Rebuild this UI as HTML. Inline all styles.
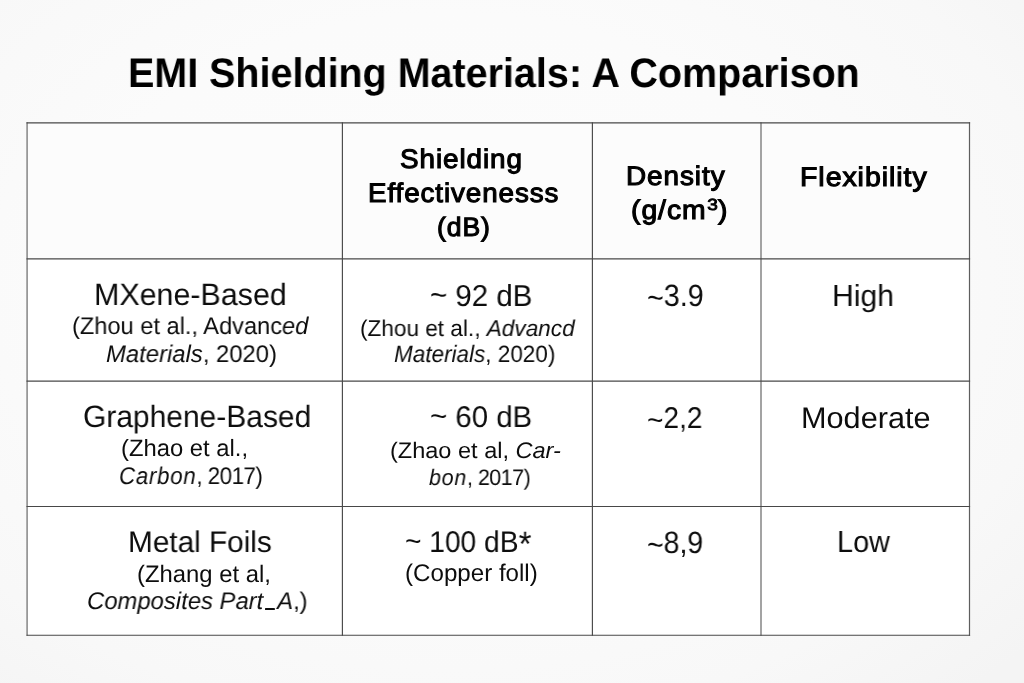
<!DOCTYPE html>
<html><head><meta charset='utf-8'><title>EMI Shielding Materials: A Comparison</title>
<style>
html,body{margin:0;padding:0;}
body{width:1024px;height:683px;overflow:hidden;background:#f8f8f8 radial-gradient(ellipse 75% 80% at 44% 42%, #fcfcfc 0%, #fbfbfb 50%, #f8f8f8 80%, #f4f4f4 100%);font-family:"Liberation Sans", sans-serif;color:#0d0d0d;position:relative;}
.t{position:absolute;white-space:nowrap;line-height:1;transform-origin:0 0;will-change:transform;text-rendering:geometricPrecision;}
.t i{font-style:italic;}
.sup{display:inline-block;font-size:60%;position:relative;top:-0.56em;transform:scaleX(1.12);margin:0 0.06em 0 0.06em;-webkit-text-stroke-width:0.85px;letter-spacing:0;}
.tl{position:relative;top:0.06em;}
.tl0{position:relative;top:-0.02em;}
.ast{font-size:1.18em;line-height:0;position:relative;top:0.12em;}
.us{display:inline-block;width:0.40em;height:0.085em;background:currentColor;margin:0 0.11em 0 0.07em;vertical-align:-0.06em;border-radius:0.5px;}
svg{position:absolute;left:0;top:0;}
</style></head>
<body>
<svg width="1024" height="683" viewBox="0 0 1024 683">
<rect x="27.1" y="122.8" width="942.4" height="136.1" fill="#fcfcfc"/>
<rect x="27.1" y="258.9" width="942.4" height="376.3" fill="#ffffff"/>
<line x1="27.1" y1="122.2" x2="27.1" y2="635.8" stroke="#939393" stroke-width="1.7"/>
<line x1="342.4" y1="122.2" x2="342.4" y2="635.8" stroke="#484848" stroke-width="1.15"/>
<line x1="592.4" y1="122.2" x2="592.4" y2="635.8" stroke="#484848" stroke-width="1.15"/>
<line x1="761.0" y1="122.2" x2="761.0" y2="635.8" stroke="#939393" stroke-width="1.7"/>
<line x1="969.5" y1="122.2" x2="969.5" y2="635.8" stroke="#5e5e5e" stroke-width="1.2"/>
<line x1="26.5" y1="122.8" x2="970.1" y2="122.8" stroke="#484848" stroke-width="1.15"/>
<line x1="26.5" y1="258.9" x2="970.1" y2="258.9" stroke="#484848" stroke-width="1.15"/>
<line x1="26.5" y1="381.1" x2="970.1" y2="381.1" stroke="#484848" stroke-width="1.15"/>
<line x1="26.5" y1="506.5" x2="970.1" y2="506.5" stroke="#484848" stroke-width="1.15"/>
<line x1="26.5" y1="635.2" x2="970.1" y2="635.2" stroke="#484848" stroke-width="1.15"/>
</svg>
<div class="t" style="left:128.07px;top:53.0px;font-size:41.28px;font-weight:bold;color:#000;transform:scaleX(0.9564)">EMI Shielding Materials: A Comparison</div>
<div class="t" style="left:400.26px;top:146.0px;font-size:26.89px;color:#000;font-weight:normal;letter-spacing:0.9px;-webkit-text-stroke:1.1px currentColor;transform:scaleX(1.0358)">Shielding</div>
<div class="t" style="left:367.61px;top:180.0px;font-size:26.89px;color:#000;font-weight:normal;letter-spacing:0.9px;-webkit-text-stroke:1.1px currentColor;transform:scaleX(1.0320)">Effectivenesss</div>
<div class="t" style="left:437.45px;top:213.5px;font-size:26.6px;color:#000;font-weight:normal;letter-spacing:0.9px;-webkit-text-stroke:1.1px currentColor;transform:scaleX(0.9953)">(dB)</div>
<div class="t" style="left:626.30px;top:163.25px;font-size:26.89px;color:#000;font-weight:normal;letter-spacing:0.9px;-webkit-text-stroke:1.1px currentColor;transform:scaleX(1.0375)">Density</div>
<div class="t" style="left:630.75px;top:197.0px;font-size:26.89px;color:#000;font-weight:normal;letter-spacing:0.9px;-webkit-text-stroke:1.1px currentColor;transform:scaleX(1.0537)">(g/cm<span class='sup'>3</span>)</div>
<div class="t" style="left:799.87px;top:163.5px;font-size:26.89px;color:#000;font-weight:normal;letter-spacing:0.9px;-webkit-text-stroke:1.1px currentColor;transform:scaleX(1.0598)">Flexibility</div>
<div class="t" style="left:93.72px;top:280.0px;font-size:30.81px;font-weight:normal;transform:scaleX(0.9875)">MXene-Based</div>
<div class="t" style="left:71.73px;top:314.5px;font-size:24.13px;font-weight:normal;transform:scaleX(0.9789)">(Zhou et al., Advanc<i>ed</i></div>
<div class="t" style="left:105.69px;top:342.5px;font-size:24.13px;font-weight:normal;transform:scaleX(0.9883)"><i>Materials</i>, 2020)</div>
<div class="t" style="left:429.69px;top:281.5px;font-size:30.23px;font-weight:normal;transform:scaleX(0.9753)"><span class='tl0'>~</span> 92 dB</div>
<div class="t" style="left:359.58px;top:316.5px;font-size:22.82px;font-weight:normal;transform:scaleX(0.9897)">(Zhou et al., <i>Advancd</i></div>
<div class="t" style="left:393.72px;top:344.0px;font-size:23.69px;font-weight:normal;transform:scaleX(0.9499)"><i>Materials</i>, 2020)</div>
<div class="t" style="left:646.72px;top:280.5px;font-size:30.81px;font-weight:normal;transform:scaleX(0.9306)"><span class='tl'>~</span>3.9</div>
<div class="t" style="left:831.65px;top:281.0px;font-size:30.52px;font-weight:normal;transform:scaleX(0.9885)">High</div>
<div class="t" style="left:83.48px;top:401.75px;font-size:30.81px;font-weight:normal;transform:scaleX(0.9730)">Graphene-Based</div>
<div class="t" style="left:121.32px;top:436.5px;font-size:23.55px;font-weight:normal;transform:scaleX(1.0109)">(Zhao et al.,</div>
<div class="t" style="left:119.06px;top:465.0px;font-size:24.13px;font-weight:normal;transform:scaleX(0.9218)"><i style='letter-spacing:0.8px'>Carbon</i><span style='letter-spacing:-0.5px'>, 2017)</span></div>
<div class="t" style="left:429.90px;top:403.0px;font-size:29.94px;font-weight:normal;transform:scaleX(0.9821)"><span class='tl0'>~</span> 60 dB</div>
<div class="t" style="left:389.94px;top:440.0px;font-size:22.53px;font-weight:normal;transform:scaleX(1.0446)">(Zhao et al, <i>Car-</i></div>
<div class="t" style="left:428.82px;top:466.75px;font-size:22.38px;font-weight:normal;transform:scaleX(0.9560)"><i style='letter-spacing:0.8px'>bon</i><span style='letter-spacing:-0.5px'>, 2017)</span></div>
<div class="t" style="left:646.96px;top:403.5px;font-size:29.94px;font-weight:normal;transform:scaleX(0.9373)"><span class='tl'>~</span>2,2</div>
<div class="t" style="left:800.81px;top:403.5px;font-size:29.94px;font-weight:normal;transform:scaleX(1.0239)">Moderate</div>
<div class="t" style="left:127.58px;top:528.25px;font-size:29.94px;font-weight:normal;transform:scaleX(0.9937)">Metal Foils</div>
<div class="t" style="left:137.11px;top:562.5px;font-size:23.84px;font-weight:normal;transform:scaleX(1.0002)">(Zhang et al,</div>
<div class="t" style="left:87.37px;top:589.5px;font-size:24.13px;font-weight:normal;transform:scaleX(0.9887)"><i>Composites Part<span class='us'></span>A</i>,)</div>
<div class="t" style="left:405.15px;top:527.5px;font-size:29.94px;font-weight:normal;transform:scaleX(0.9406)"><span class='tl0'>~</span> 100 dB<span class='ast'>*</span></div>
<div class="t" style="left:404.60px;top:561.5px;font-size:24.13px;font-weight:normal;transform:scaleX(1.0002)">(Copper foll)</div>
<div class="t" style="left:646.93px;top:527.5px;font-size:30.81px;font-weight:normal;transform:scaleX(0.9220)"><span class='tl'>~</span>8,9</div>
<div class="t" style="left:836.96px;top:527.25px;font-size:30.38px;font-weight:normal;transform:scaleX(0.9497)">Low</div>
</body></html>
